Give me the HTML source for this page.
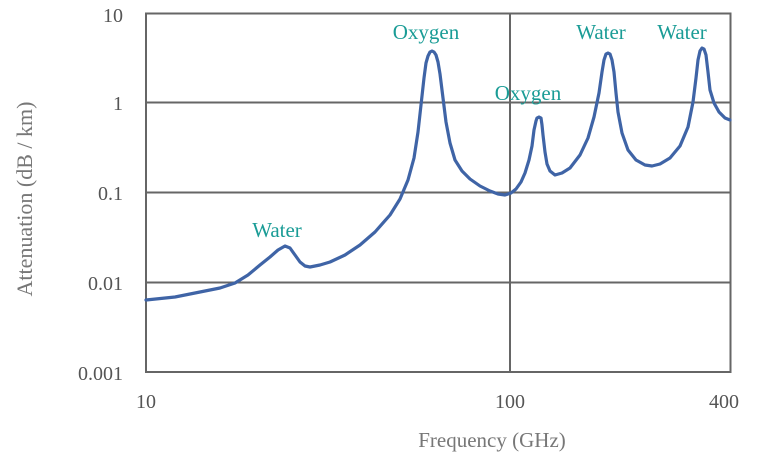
<!DOCTYPE html>
<html><head><meta charset="utf-8"><style>
html,body{margin:0;padding:0;background:#fff;}
svg{display:block;font-family:"Liberation Serif",serif;}
</style></head><body>
<svg width="768" height="458" viewBox="0 0 768 458" xmlns="http://www.w3.org/2000/svg">
<g stroke="#666" stroke-width="2" fill="none">
<rect x="146" y="13.5" width="584.5" height="358.5"/>
<line x1="146" y1="102.5" x2="730.5" y2="102.5"/>
<line x1="146" y1="192.5" x2="730.5" y2="192.5"/>
<line x1="146" y1="282.5" x2="730.5" y2="282.5"/>
<line x1="510" y1="13.5" x2="510" y2="372"/>
</g>
<g fill="#555" font-size="20" text-anchor="end">
<text x="123" y="22">10</text>
<text x="123" y="110">1</text>
<text x="123" y="200">0.1</text>
<text x="123" y="290">0.01</text>
<text x="123" y="380">0.001</text>
</g>
<g fill="#555" font-size="20" text-anchor="middle">
<text x="146" y="408">10</text>
<text x="510" y="408">100</text>
<text x="724" y="408">400</text>
<text x="492" y="447" fill="#777" font-size="21">Frequency (GHz)</text>
</g>
<text transform="translate(32,199) rotate(-90)" font-size="22" fill="#777" text-anchor="middle">Attenuation (dB / km)</text>
<g fill="#1a9c96" font-size="21" text-anchor="middle">
<text x="426" y="39">Oxygen</text>
<text x="528" y="100">Oxygen</text>
<text x="601" y="39">Water</text>
<text x="682" y="39">Water</text>
<text x="277" y="237">Water</text>
</g>
<polyline fill="none" stroke="#3f64a6" stroke-width="3.2" stroke-linejoin="round" stroke-linecap="round" points="146,300 175,297 200,292 220,288 235,283 248,275 260,265 270,257 278,250 285,246 290,248 295,255 300,262 305,266 310,267 320,265 330,262 345,255 360,245 375,232 390,215 400,199 408,180 414,158 418,132 421,105 424,78 426,63 428,56 430,52 432,51 434,52 436,55 438,62 440,74 443,98 446,122 450,143 455,160 462,171 470,179 480,186 490,191 498,194 505,195 511,193 516,189 521,182 525,173 529,160 532,146 534,130 536,121 537,118 539,117 541,118 542,125 543,135 545,152 547,164 550,171 555,175 562,173 570,168 580,155 588,138 594,117 599,93 602,72 604,60 606,54 608,53 610,54 612,60 614,72 616,93 618,112 622,133 628,150 636,160 645,165 652,166 660,164 670,158 680,146 688,127 693,102 696,78 698,60 700,51 702,48 704,49 706,55 708,72 710,90 714,103 719,112 725,118 730,120"/>
</svg>
</body></html>
